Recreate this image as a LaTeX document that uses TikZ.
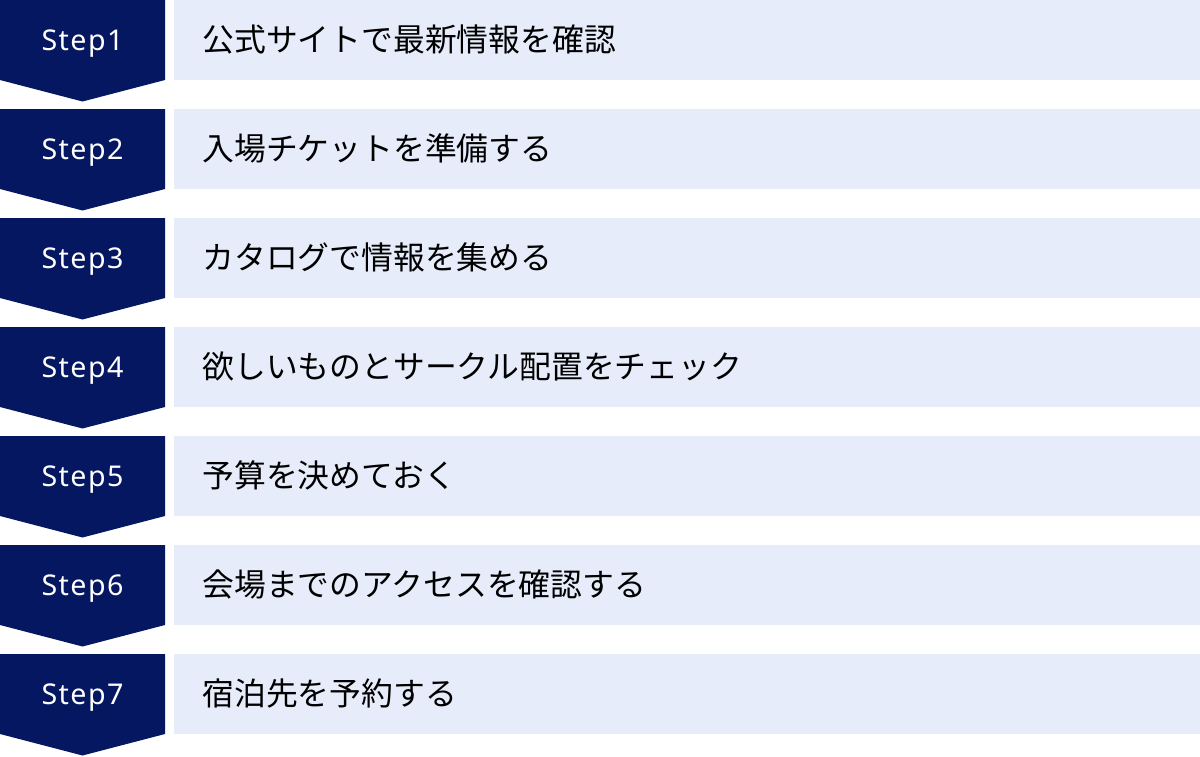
\documentclass[tikz,border=0pt]{standalone}
\usepackage{fontspec}
\setmainfont{Noto Sans CJK JP}
\newfontfamily\stepfont[LetterSpace=5]{Noto Sans}
\usetikzlibrary{positioning}
\definecolor{stepnavy}{HTML}{051760}
\definecolor{steplight}{HTML}{E6ECF9}

\begin{document}
\begin{tikzpicture}[x=0.5pt,y=-0.5pt,
	steplabel/.style={text=white,inner sep=0pt,font=\stepfont\fontsize{14.3}{15}\selectfont},
	steptext/.style={anchor=west,inner sep=0pt,font=\fontsize{15.9}{16}\selectfont}]
	\useasboundingbox (0,0) rectangle (1200,756);
	\foreach \n/\t in {1/公式サイトで最新情報を確認,
			2/入場チケットを準備する,
			3/カタログで情報を集める,
			4/欲しいものとサークル配置をチェック,
			5/予算を決めておく,
			6/会場までのアクセスを確認する,
			7/宿泊先を予約する}{
		\pgfmathsetmacro{\rowtop}{(\n-1)*109}
		% chevron and text box
		\fill[stepnavy] (0,\rowtop) -- ++(165,0) -- ++(0,80) -- ++(-82.5,21.5) -- ++(-82.5,-21.5) -- cycle;
		\fill[steplight] (174,\rowtop) rectangle ++(1026,80);
		\node[steplabel] (step\n) at (82.5,\rowtop+44) {Step\n};
		\node[steptext] (text\n) at (202,\rowtop+39) {\t};
	}
\end{tikzpicture}
\end{document}
